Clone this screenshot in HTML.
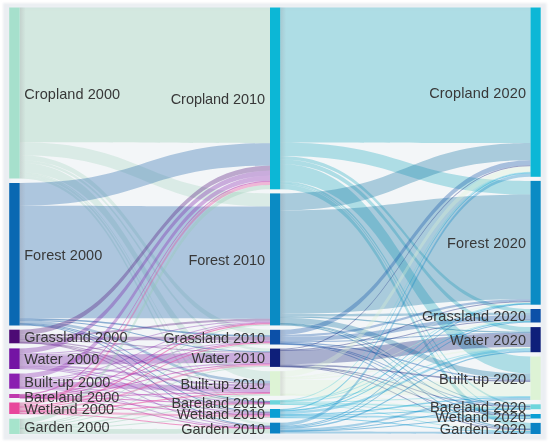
<!DOCTYPE html>
<html><head><meta charset="utf-8"><title>Sankey</title>
<style>html,body{margin:0;padding:0;background:#fff}svg{display:block}</style></head>
<body>
<svg width="550" height="443" viewBox="0 0 550 443">
<defs><linearGradient id="sh" x1="0" x2="1" y1="0" y2="0"><stop offset="0" stop-color="#8a8088" stop-opacity="0.22"/><stop offset="1" stop-color="#8a8088" stop-opacity="0"/></linearGradient><filter id="bl2" x="-5%" y="-5%" width="110%" height="110%"><feGaussianBlur stdDeviation="1.5"/></filter><filter id="bl" x="-5%" y="-5%" width="110%" height="110%"><feGaussianBlur stdDeviation="0.8"/></filter></defs>
<rect width="550" height="443" fill="#ffffff"/>
<rect x="3" y="3" width="543.5" height="437" fill="#ebeef2" filter="url(#bl)"/>
<rect x="10" y="8" width="530" height="426" fill="#f3f6f8" filter="url(#bl2)"/>
<g>
<path d="M19.70,7.50C144.85,7.50 144.85,7.50 270.00,7.50L270.00,143.15C144.85,143.15 144.85,142.37 19.70,142.37Z" fill="#92ccb0" fill-opacity="0.33"/>
<path d="M19.70,142.37C144.85,142.37 144.85,193.40 270.00,193.40L270.00,206.45C144.85,206.45 144.85,155.31 19.70,155.31Z" fill="#92ccb0" fill-opacity="0.26"/>
<path d="M19.70,155.31C144.85,155.31 144.85,329.80 270.00,329.80L270.00,335.20C144.85,335.20 144.85,160.29 19.70,160.29Z" fill="#92ccb0" fill-opacity="0.26"/>
<path d="M19.70,160.29C144.85,160.29 144.85,348.60 270.00,348.60L270.00,351.27C144.85,351.27 144.85,162.87 19.70,162.87Z" fill="#92ccb0" fill-opacity="0.26"/>
<path d="M19.70,162.87C144.85,162.87 144.85,371.20 270.00,371.20L270.00,380.66C144.85,380.66 144.85,172.33 19.70,172.33Z" fill="#92ccb0" fill-opacity="0.26"/>
<path d="M19.70,172.33C144.85,172.33 144.85,400.20 270.00,400.20L270.00,401.20C144.85,401.20 144.85,173.33 19.70,173.33Z" fill="#92ccb0" fill-opacity="0.273"/>
<path d="M19.70,173.32C144.85,173.32 144.85,409.00 270.00,409.00L270.00,411.59C144.85,411.59 144.85,175.71 19.70,175.71Z" fill="#92ccb0" fill-opacity="0.26"/>
<path d="M19.70,175.71C144.85,175.71 144.85,422.70 270.00,422.70L270.00,425.68C144.85,425.68 144.85,178.50 19.70,178.50Z" fill="#92ccb0" fill-opacity="0.26"/>
<path d="M19.70,183.00C144.85,183.00 144.85,143.15 270.00,143.15L270.00,165.67C144.85,165.67 144.85,205.66 19.70,205.66Z" fill="#1e64aa" fill-opacity="0.33"/>
<path d="M19.70,205.66C144.85,205.66 144.85,206.45 270.00,206.45L270.00,318.67C144.85,318.67 144.85,318.25 19.70,318.25Z" fill="#1e64aa" fill-opacity="0.33"/>
<path d="M19.70,318.25C144.85,318.25 144.85,335.20 270.00,335.20L270.00,336.83C144.85,336.83 144.85,319.76 19.70,319.76Z" fill="#1e64aa" fill-opacity="0.495"/>
<path d="M19.70,319.66C144.85,319.66 144.85,351.18 270.00,351.18L270.00,352.18C144.85,352.18 144.85,320.66 19.70,320.66Z" fill="#1e64aa" fill-opacity="0.495"/>
<path d="M19.70,320.57C144.85,320.57 144.85,380.66 270.00,380.66L270.00,383.35C144.85,383.35 144.85,323.28 19.70,323.28Z" fill="#1e64aa" fill-opacity="0.33"/>
<path d="M19.70,323.09C144.85,323.09 144.85,401.00 270.00,401.00L270.00,402.00C144.85,402.00 144.85,324.09 19.70,324.09Z" fill="#1e64aa" fill-opacity="0.495"/>
<path d="M19.70,323.79C144.85,323.79 144.85,411.52 270.00,411.52L270.00,412.52C144.85,412.52 144.85,324.79 19.70,324.79Z" fill="#1e64aa" fill-opacity="0.495"/>
<path d="M19.70,324.60C144.85,324.60 144.85,425.60 270.00,425.60L270.00,426.60C144.85,426.60 144.85,325.60 19.70,325.60Z" fill="#1e64aa" fill-opacity="0.495"/>
<path d="M19.70,329.70C144.85,329.70 144.85,165.67 270.00,165.67L270.00,170.68C144.85,170.68 144.85,334.70 19.70,334.70Z" fill="#4d0a75" fill-opacity="0.33"/>
<path d="M19.70,334.70C144.85,334.70 144.85,318.67 270.00,318.67L270.00,320.68C144.85,320.68 144.85,336.70 19.70,336.70Z" fill="#4d0a75" fill-opacity="0.33"/>
<path d="M19.70,336.70C144.85,336.70 144.85,336.83 270.00,336.83L270.00,340.28C144.85,340.28 144.85,339.90 19.70,339.90Z" fill="#4d0a75" fill-opacity="0.33"/>
<path d="M19.70,339.80C144.85,339.80 144.85,352.01 270.00,352.01L270.00,353.01C144.85,353.01 144.85,340.80 19.70,340.80Z" fill="#4d0a75" fill-opacity="0.33"/>
<path d="M19.70,340.70C144.85,340.70 144.85,383.35 270.00,383.35L270.00,384.74C144.85,384.74 144.85,342.10 19.70,342.10Z" fill="#4d0a75" fill-opacity="0.33"/>
<path d="M19.70,341.80C144.85,341.80 144.85,401.50 270.00,401.50L270.00,402.50C144.85,402.50 144.85,342.80 19.70,342.80Z" fill="#4d0a75" fill-opacity="0.33"/>
<path d="M19.70,342.20C144.85,342.20 144.85,412.17 270.00,412.17L270.00,413.17C144.85,413.17 144.85,343.20 19.70,343.20Z" fill="#4d0a75" fill-opacity="0.33"/>
<path d="M19.70,342.60C144.85,342.60 144.85,426.24 270.00,426.24L270.00,427.24C144.85,427.24 144.85,343.60 19.70,343.60Z" fill="#4d0a75" fill-opacity="0.33"/>
<path d="M19.70,348.40C144.85,348.40 144.85,170.68 270.00,170.68L270.00,175.69C144.85,175.69 144.85,353.40 19.70,353.40Z" fill="#7414a4" fill-opacity="0.33"/>
<path d="M19.70,353.40C144.85,353.40 144.85,320.68 270.00,320.68L270.00,321.69C144.85,321.69 144.85,354.40 19.70,354.40Z" fill="#7414a4" fill-opacity="0.33"/>
<path d="M19.70,354.30C144.85,354.30 144.85,340.22 270.00,340.22L270.00,341.22C144.85,341.22 144.85,355.30 19.70,355.30Z" fill="#7414a4" fill-opacity="0.33"/>
<path d="M19.70,355.20C144.85,355.20 144.85,352.92 270.00,352.92L270.00,362.68C144.85,362.68 144.85,364.70 19.70,364.70Z" fill="#7414a4" fill-opacity="0.33"/>
<path d="M19.70,364.70C144.85,364.70 144.85,384.74 270.00,384.74L270.00,386.74C144.85,386.74 144.85,366.70 19.70,366.70Z" fill="#7414a4" fill-opacity="0.33"/>
<path d="M19.70,366.45C144.85,366.45 144.85,401.95 270.00,401.95L270.00,402.95C144.85,402.95 144.85,367.45 19.70,367.45Z" fill="#7414a4" fill-opacity="0.33"/>
<path d="M19.70,367.20C144.85,367.20 144.85,412.89 270.00,412.89L270.00,414.18C144.85,414.18 144.85,368.40 19.70,368.40Z" fill="#7414a4" fill-opacity="0.33"/>
<path d="M19.70,368.20C144.85,368.20 144.85,426.78 270.00,426.78L270.00,427.78C144.85,427.78 144.85,369.20 19.70,369.20Z" fill="#7414a4" fill-opacity="0.33"/>
<path d="M19.70,373.60C144.85,373.60 144.85,175.69 270.00,175.69L270.00,180.69C144.85,180.69 144.85,378.60 19.70,378.60Z" fill="#8a1fb0" fill-opacity="0.33"/>
<path d="M19.70,378.60C144.85,378.60 144.85,321.69 270.00,321.69L270.00,322.69C144.85,322.69 144.85,379.60 19.70,379.60Z" fill="#8a1fb0" fill-opacity="0.33"/>
<path d="M19.70,379.50C144.85,379.50 144.85,341.08 270.00,341.08L270.00,342.08C144.85,342.08 144.85,380.50 19.70,380.50Z" fill="#8a1fb0" fill-opacity="0.33"/>
<path d="M19.70,380.40C144.85,380.40 144.85,362.68 270.00,362.68L270.00,363.92C144.85,363.92 144.85,381.60 19.70,381.60Z" fill="#8a1fb0" fill-opacity="0.33"/>
<path d="M19.70,381.60C144.85,381.60 144.85,386.74 270.00,386.74L270.00,392.21C144.85,392.21 144.85,387.10 19.70,387.10Z" fill="#8a1fb0" fill-opacity="0.33"/>
<path d="M19.70,386.80C144.85,386.80 144.85,402.40 270.00,402.40L270.00,403.40C144.85,403.40 144.85,387.80 19.70,387.80Z" fill="#8a1fb0" fill-opacity="0.33"/>
<path d="M19.70,387.30C144.85,387.30 144.85,414.01 270.00,414.01L270.00,415.01C144.85,415.01 144.85,388.30 19.70,388.30Z" fill="#8a1fb0" fill-opacity="0.33"/>
<path d="M19.70,387.90C144.85,387.90 144.85,427.41 270.00,427.41L270.00,428.41C144.85,428.41 144.85,388.90 19.70,388.90Z" fill="#8a1fb0" fill-opacity="0.33"/>
<path d="M19.70,394.00C144.85,394.00 144.85,180.69 270.00,180.69L270.00,181.99C144.85,181.99 144.85,395.30 19.70,395.30Z" fill="#c03aae" fill-opacity="0.54"/>
<path d="M19.70,395.05C144.85,395.05 144.85,322.44 270.00,322.44L270.00,323.44C144.85,323.44 144.85,396.05 19.70,396.05Z" fill="#c03aae" fill-opacity="0.54"/>
<path d="M19.70,395.50C144.85,395.50 144.85,341.73 270.00,341.73L270.00,342.73C144.85,342.73 144.85,396.50 19.70,396.50Z" fill="#c03aae" fill-opacity="0.54"/>
<path d="M19.70,395.85C144.85,395.85 144.85,363.57 270.00,363.57L270.00,364.57C144.85,364.57 144.85,396.85 19.70,396.85Z" fill="#c03aae" fill-opacity="0.54"/>
<path d="M19.70,396.30C144.85,396.30 144.85,392.01 270.00,392.01L270.00,393.01C144.85,393.01 144.85,397.30 19.70,397.30Z" fill="#c03aae" fill-opacity="0.54"/>
<path d="M19.70,396.90C144.85,396.90 144.85,402.90 270.00,402.90L270.00,403.90C144.85,403.90 144.85,397.90 19.70,397.90Z" fill="#c03aae" fill-opacity="0.54"/>
<path d="M19.70,397.28C144.85,397.28 144.85,414.41 270.00,414.41L270.00,415.41C144.85,415.41 144.85,398.28 19.70,398.28Z" fill="#c03aae" fill-opacity="0.54"/>
<path d="M19.70,397.43C144.85,397.43 144.85,427.81 270.00,427.81L270.00,428.81C144.85,428.81 144.85,398.43 19.70,398.43Z" fill="#c03aae" fill-opacity="0.54"/>
<path d="M19.70,402.50C144.85,402.50 144.85,181.99 270.00,181.99L270.00,185.00C144.85,185.00 144.85,405.64 19.70,405.64Z" fill="#e8479c" fill-opacity="0.36"/>
<path d="M19.70,405.64C144.85,405.64 144.85,323.19 270.00,323.19L270.00,324.40C144.85,324.40 144.85,406.89 19.70,406.89Z" fill="#e8479c" fill-opacity="0.54"/>
<path d="M19.70,406.89C144.85,406.89 144.85,342.45 270.00,342.45L270.00,343.53C144.85,343.53 144.85,407.94 19.70,407.94Z" fill="#e8479c" fill-opacity="0.54"/>
<path d="M19.70,407.94C144.85,407.94 144.85,364.23 270.00,364.23L270.00,366.08C144.85,366.08 144.85,409.82 19.70,409.82Z" fill="#e8479c" fill-opacity="0.36"/>
<path d="M19.70,409.82C144.85,409.82 144.85,392.81 270.00,392.81L270.00,394.11C144.85,394.11 144.85,411.18 19.70,411.18Z" fill="#e8479c" fill-opacity="0.54"/>
<path d="M19.70,410.89C144.85,410.89 144.85,403.40 270.00,403.40L270.00,404.40C144.85,404.40 144.85,411.89 19.70,411.89Z" fill="#e8479c" fill-opacity="0.54"/>
<path d="M19.70,411.60C144.85,411.60 144.85,414.99 270.00,414.99L270.00,417.15C144.85,417.15 144.85,413.69 19.70,413.69Z" fill="#e8479c" fill-opacity="0.36"/>
<path d="M19.70,413.34C144.85,413.34 144.85,428.05 270.00,428.05L270.00,429.05C144.85,429.05 144.85,414.34 19.70,414.34Z" fill="#e8479c" fill-opacity="0.54"/>
<path d="M19.70,418.70C144.85,418.70 144.85,185.00 270.00,185.00L270.00,189.30C144.85,189.30 144.85,423.30 19.70,423.30Z" fill="#92ccb0" fill-opacity="0.33"/>
<path d="M19.70,423.30C144.85,423.30 144.85,324.40 270.00,324.40L270.00,325.40C144.85,325.40 144.85,424.37 19.70,424.37Z" fill="#92ccb0" fill-opacity="0.396"/>
<path d="M19.70,424.35C144.85,424.35 144.85,343.51 270.00,343.51L270.00,344.51C144.85,344.51 144.85,425.35 19.70,425.35Z" fill="#92ccb0" fill-opacity="0.396"/>
<path d="M19.70,425.26C144.85,425.26 144.85,365.99 270.00,365.99L270.00,366.99C144.85,366.99 144.85,426.26 19.70,426.26Z" fill="#92ccb0" fill-opacity="0.396"/>
<path d="M19.70,426.19C144.85,426.19 144.85,394.11 270.00,394.11L270.00,395.80C144.85,395.80 144.85,428.01 19.70,428.01Z" fill="#92ccb0" fill-opacity="0.33"/>
<path d="M19.70,427.78C144.85,427.78 144.85,403.85 270.00,403.85L270.00,404.85C144.85,404.85 144.85,428.78 19.70,428.78Z" fill="#92ccb0" fill-opacity="0.396"/>
<path d="M19.70,428.36C144.85,428.36 144.85,416.98 270.00,416.98L270.00,417.98C144.85,417.98 144.85,429.36 19.70,429.36Z" fill="#92ccb0" fill-opacity="0.396"/>
<path d="M19.70,429.19C144.85,429.19 144.85,428.71 270.00,428.71L270.00,433.50C144.85,433.50 144.85,434.00 19.70,434.00Z" fill="#92ccb0" fill-opacity="0.33"/>
<path d="M280.20,7.50C405.35,7.50 405.35,7.50 530.50,7.50L530.50,143.06C405.35,143.06 405.35,142.44 280.20,142.44Z" fill="#22aabf" fill-opacity="0.33"/>
<path d="M280.20,142.44C405.35,142.44 405.35,180.90 530.50,180.90L530.50,194.58C405.35,194.58 405.35,156.02 280.20,156.02Z" fill="#22aabf" fill-opacity="0.33"/>
<path d="M280.20,156.02C405.35,156.02 405.35,309.00 530.50,309.00L530.50,312.63C405.35,312.63 405.35,159.54 280.20,159.54Z" fill="#22aabf" fill-opacity="0.33"/>
<path d="M280.20,159.54C405.35,159.54 405.35,327.10 530.50,327.10L530.50,331.60C405.35,331.60 405.35,164.06 280.20,164.06Z" fill="#22aabf" fill-opacity="0.33"/>
<path d="M280.20,164.06C405.35,164.06 405.35,356.50 530.50,356.50L530.50,373.62C405.35,373.62 405.35,181.16 280.20,181.16Z" fill="#22aabf" fill-opacity="0.33"/>
<path d="M280.20,181.16C405.35,181.16 405.35,404.30 530.50,404.30L530.50,406.02C405.35,406.02 405.35,183.17 280.20,183.17Z" fill="#22aabf" fill-opacity="0.33"/>
<path d="M280.20,183.17C405.35,183.17 405.35,414.00 530.50,414.00L530.50,415.17C405.35,415.17 405.35,184.47 280.20,184.47Z" fill="#22aabf" fill-opacity="0.33"/>
<path d="M280.20,184.47C405.35,184.47 405.35,422.90 530.50,422.90L530.50,428.12C405.35,428.12 405.35,189.30 280.20,189.30Z" fill="#22aabf" fill-opacity="0.33"/>
<path d="M280.20,193.40C405.35,193.40 405.35,143.06 530.50,143.06L530.50,160.23C405.35,160.23 405.35,210.44 280.20,210.44Z" fill="#1374a4" fill-opacity="0.33"/>
<path d="M280.20,210.44C405.35,210.44 405.35,194.58 530.50,194.58L530.50,299.23C405.35,299.23 405.35,313.97 280.20,313.97Z" fill="#1374a4" fill-opacity="0.33"/>
<path d="M280.20,313.97C405.35,313.97 405.35,312.63 530.50,312.63L530.50,315.23C405.35,315.23 405.35,316.48 280.20,316.48Z" fill="#1374a4" fill-opacity="0.33"/>
<path d="M280.20,316.48C405.35,316.48 405.35,331.60 530.50,331.60L530.50,332.80C405.35,332.80 405.35,317.68 280.20,317.68Z" fill="#1374a4" fill-opacity="0.42900000000000005"/>
<path d="M280.20,317.68C405.35,317.68 405.35,373.62 530.50,373.62L530.50,379.16C405.35,379.16 405.35,323.19 280.20,323.19Z" fill="#1374a4" fill-opacity="0.33"/>
<path d="M280.20,323.00C405.35,323.00 405.35,405.78 530.50,405.78L530.50,406.78C405.35,406.78 405.35,324.00 280.20,324.00Z" fill="#1374a4" fill-opacity="0.42900000000000005"/>
<path d="M280.20,323.55C405.35,323.55 405.35,414.90 530.50,414.90L530.50,415.90C405.35,415.90 405.35,324.55 280.20,324.55Z" fill="#1374a4" fill-opacity="0.42900000000000005"/>
<path d="M280.20,324.30C405.35,324.30 405.35,428.12 530.50,428.12L530.50,429.32C405.35,429.32 405.35,325.40 280.20,325.40Z" fill="#1374a4" fill-opacity="0.42900000000000005"/>
<path d="M280.20,329.80C405.35,329.80 405.35,160.23 530.50,160.23L530.50,165.28C405.35,165.28 405.35,334.80 280.20,334.80Z" fill="#0c50a8" fill-opacity="0.33"/>
<path d="M280.20,334.80C405.35,334.80 405.35,299.23 530.50,299.23L530.50,301.46C405.35,301.46 405.35,337.00 280.20,337.00Z" fill="#0c50a8" fill-opacity="0.33"/>
<path d="M280.20,337.00C405.35,337.00 405.35,315.23 530.50,315.23L530.50,319.90C405.35,319.90 405.35,341.50 280.20,341.50Z" fill="#0c50a8" fill-opacity="0.33"/>
<path d="M280.20,341.30C405.35,341.30 405.35,332.60 530.50,332.60L530.50,333.60C405.35,333.60 405.35,342.30 280.20,342.30Z" fill="#0c50a8" fill-opacity="0.396"/>
<path d="M280.20,342.10C405.35,342.10 405.35,379.16 530.50,379.16L530.50,380.36C405.35,380.36 405.35,343.30 280.20,343.30Z" fill="#0c50a8" fill-opacity="0.396"/>
<path d="M280.20,343.00C405.35,343.00 405.35,406.21 530.50,406.21L530.50,407.21C405.35,407.21 405.35,344.00 280.20,344.00Z" fill="#0c50a8" fill-opacity="0.396"/>
<path d="M280.20,343.35C405.35,343.35 405.35,415.25 530.50,415.25L530.50,416.25C405.35,416.25 405.35,344.35 280.20,344.35Z" fill="#0c50a8" fill-opacity="0.396"/>
<path d="M280.20,343.75C405.35,343.75 405.35,429.09 530.50,429.09L530.50,430.09C405.35,430.09 405.35,344.75 280.20,344.75Z" fill="#0c50a8" fill-opacity="0.396"/>
<path d="M280.20,348.60C405.35,348.60 405.35,165.28 530.50,165.28L530.50,166.29C405.35,166.29 405.35,349.60 280.20,349.60Z" fill="#0e1f7a" fill-opacity="0.396"/>
<path d="M280.20,349.45C405.35,349.45 405.35,301.31 530.50,301.31L530.50,302.31C405.35,302.31 405.35,350.45 280.20,350.45Z" fill="#0e1f7a" fill-opacity="0.396"/>
<path d="M280.20,350.05C405.35,350.05 405.35,319.66 530.50,319.66L530.50,320.66C405.35,320.66 405.35,351.05 280.20,351.05Z" fill="#0e1f7a" fill-opacity="0.396"/>
<path d="M280.20,350.80C405.35,350.80 405.35,333.40 530.50,333.40L530.50,346.90C405.35,346.90 405.35,364.30 280.20,364.30Z" fill="#0e1f7a" fill-opacity="0.33"/>
<path d="M280.20,364.30C405.35,364.30 405.35,380.36 530.50,380.36L530.50,381.88C405.35,381.88 405.35,365.80 280.20,365.80Z" fill="#0e1f7a" fill-opacity="0.396"/>
<path d="M280.20,365.45C405.35,365.45 405.35,406.51 530.50,406.51L530.50,407.51C405.35,407.51 405.35,366.45 280.20,366.45Z" fill="#0e1f7a" fill-opacity="0.396"/>
<path d="M280.20,365.80C405.35,365.80 405.35,415.57 530.50,415.57L530.50,416.57C405.35,416.57 405.35,366.80 280.20,366.80Z" fill="#0e1f7a" fill-opacity="0.396"/>
<path d="M280.20,366.20C405.35,366.20 405.35,429.58 530.50,429.58L530.50,430.58C405.35,430.58 405.35,367.20 280.20,367.20Z" fill="#0e1f7a" fill-opacity="0.396"/>
<path d="M280.20,371.20C405.35,371.20 405.35,166.29 530.50,166.29L530.50,171.85C405.35,171.85 405.35,376.81 280.20,376.81Z" fill="#ddf3d5" fill-opacity="0.33"/>
<path d="M280.20,376.81C405.35,376.81 405.35,302.17 530.50,302.17L530.50,303.18C405.35,303.18 405.35,377.83 280.20,377.83Z" fill="#ddf3d5" fill-opacity="0.33"/>
<path d="M280.20,377.59C405.35,377.59 405.35,320.18 530.50,320.18L530.50,321.18C405.35,321.18 405.35,378.59 280.20,378.59Z" fill="#ddf3d5" fill-opacity="0.33"/>
<path d="M280.20,378.35C405.35,378.35 405.35,346.90 530.50,346.90L530.50,348.40C405.35,348.40 405.35,379.88 280.20,379.88Z" fill="#ddf3d5" fill-opacity="0.33"/>
<path d="M280.20,379.88C405.35,379.88 405.35,381.88 530.50,381.88L530.50,395.97C405.35,395.97 405.35,394.17 280.20,394.17Z" fill="#ddf3d5" fill-opacity="0.33"/>
<path d="M280.20,393.82C405.35,393.82 405.35,406.77 530.50,406.77L530.50,407.77C405.35,407.77 405.35,394.82 280.20,394.82Z" fill="#ddf3d5" fill-opacity="0.33"/>
<path d="M280.20,394.13C405.35,394.13 405.35,415.88 530.50,415.88L530.50,416.88C405.35,416.88 405.35,395.13 280.20,395.13Z" fill="#ddf3d5" fill-opacity="0.33"/>
<path d="M280.20,394.78C405.35,394.78 405.35,430.30 530.50,430.30L530.50,431.39C405.35,431.39 405.35,395.80 280.20,395.80Z" fill="#ddf3d5" fill-opacity="0.33"/>
<path d="M280.20,400.05C405.35,400.05 405.35,171.70 530.50,171.70L530.50,172.70C405.35,172.70 405.35,401.05 280.20,401.05Z" fill="#5fd0d8" fill-opacity="0.396"/>
<path d="M280.20,400.55C405.35,400.55 405.35,302.83 530.50,302.83L530.50,303.83C405.35,303.83 405.35,401.55 280.20,401.55Z" fill="#5fd0d8" fill-opacity="0.396"/>
<path d="M280.20,400.85C405.35,400.85 405.35,320.60 530.50,320.60L530.50,321.60C405.35,321.60 405.35,401.85 280.20,401.85Z" fill="#5fd0d8" fill-opacity="0.396"/>
<path d="M280.20,401.15C405.35,401.15 405.35,348.05 530.50,348.05L530.50,349.05C405.35,349.05 405.35,402.15 280.20,402.15Z" fill="#5fd0d8" fill-opacity="0.396"/>
<path d="M280.20,401.70C405.35,401.70 405.35,395.88 530.50,395.88L530.50,396.88C405.35,396.88 405.35,402.70 280.20,402.70Z" fill="#5fd0d8" fill-opacity="0.396"/>
<path d="M280.20,402.60C405.35,402.60 405.35,407.39 530.50,407.39L530.50,408.77C405.35,408.77 405.35,404.20 280.20,404.20Z" fill="#5fd0d8" fill-opacity="0.396"/>
<path d="M280.20,403.80C405.35,403.80 405.35,416.11 530.50,416.11L530.50,417.11C405.35,417.11 405.35,404.80 280.20,404.80Z" fill="#5fd0d8" fill-opacity="0.396"/>
<path d="M280.20,404.00C405.35,404.00 405.35,431.00 530.50,431.00L530.50,432.00C405.35,432.00 405.35,405.00 280.20,405.00Z" fill="#5fd0d8" fill-opacity="0.396"/>
<path d="M280.20,409.00C405.35,409.00 405.35,172.56 530.50,172.56L530.50,173.77C405.35,173.77 405.35,410.32 280.20,410.32Z" fill="#0a9fd4" fill-opacity="0.42900000000000005"/>
<path d="M280.20,410.09C405.35,410.09 405.35,303.24 530.50,303.24L530.50,304.24C405.35,304.24 405.35,411.09 280.20,411.09Z" fill="#0a9fd4" fill-opacity="0.42900000000000005"/>
<path d="M280.20,410.64C405.35,410.64 405.35,321.01 530.50,321.01L530.50,322.01C405.35,322.01 405.35,411.64 280.20,411.64Z" fill="#0a9fd4" fill-opacity="0.42900000000000005"/>
<path d="M280.20,411.42C405.35,411.42 405.35,348.70 530.50,348.70L530.50,350.90C405.35,350.90 405.35,413.84 280.20,413.84Z" fill="#0a9fd4" fill-opacity="0.33"/>
<path d="M280.20,413.84C405.35,413.84 405.35,396.78 530.50,396.78L530.50,397.99C405.35,397.99 405.35,415.16 280.20,415.16Z" fill="#0a9fd4" fill-opacity="0.42900000000000005"/>
<path d="M280.20,414.83C405.35,414.83 405.35,408.40 530.50,408.40L530.50,409.40C405.35,409.40 405.35,415.83 280.20,415.83Z" fill="#0a9fd4" fill-opacity="0.42900000000000005"/>
<path d="M280.20,415.49C405.35,415.49 405.35,416.70 530.50,416.70L530.50,418.32C405.35,418.32 405.35,417.47 280.20,417.47Z" fill="#0a9fd4" fill-opacity="0.33"/>
<path d="M280.20,417.14C405.35,417.14 405.35,431.27 530.50,431.27L530.50,432.27C405.35,432.27 405.35,418.14 280.20,418.14Z" fill="#0a9fd4" fill-opacity="0.42900000000000005"/>
<path d="M280.20,422.70C405.35,422.70 405.35,173.77 530.50,173.77L530.50,176.80C405.35,176.80 405.35,425.97 280.20,425.97Z" fill="#0a82c4" fill-opacity="0.33"/>
<path d="M280.20,425.85C405.35,425.85 405.35,303.85 530.50,303.85L530.50,304.85C405.35,304.85 405.35,426.85 280.20,426.85Z" fill="#0a82c4" fill-opacity="0.42900000000000005"/>
<path d="M280.20,426.62C405.35,426.62 405.35,321.64 530.50,321.64L530.50,322.64C405.35,322.64 405.35,427.62 280.20,427.62Z" fill="#0a82c4" fill-opacity="0.42900000000000005"/>
<path d="M280.20,427.50C405.35,427.50 405.35,350.90 530.50,350.90L530.50,352.20C405.35,352.20 405.35,428.92 280.20,428.92Z" fill="#0a82c4" fill-opacity="0.42900000000000005"/>
<path d="M280.20,428.92C405.35,428.92 405.35,397.99 530.50,397.99L530.50,399.90C405.35,399.90 405.35,430.99 280.20,430.99Z" fill="#0a82c4" fill-opacity="0.33"/>
<path d="M280.20,430.60C405.35,430.60 405.35,408.61 530.50,408.61L530.50,409.61C405.35,409.61 405.35,431.60 280.20,431.60Z" fill="#0a82c4" fill-opacity="0.42900000000000005"/>
<path d="M280.20,430.82C405.35,430.82 405.35,417.91 530.50,417.91L530.50,418.91C405.35,418.91 405.35,431.82 280.20,431.82Z" fill="#0a82c4" fill-opacity="0.42900000000000005"/>
<path d="M280.20,431.43C405.35,431.43 405.35,431.93 530.50,431.93L530.50,434.00C405.35,434.00 405.35,433.50 280.20,433.50Z" fill="#0a82c4" fill-opacity="0.33"/>
</g>
<rect x="19.7" y="7.5" width="6" height="171.00" fill="url(#sh)"/>
<rect x="19.7" y="183" width="6" height="142.50" fill="url(#sh)"/>
<rect x="19.7" y="329.7" width="6" height="13.60" fill="url(#sh)"/>
<rect x="19.7" y="348.4" width="6" height="20.60" fill="url(#sh)"/>
<rect x="19.7" y="373.6" width="6" height="15.10" fill="url(#sh)"/>
<rect x="19.7" y="394" width="6" height="4.00" fill="url(#sh)"/>
<rect x="19.7" y="402.5" width="6" height="11.50" fill="url(#sh)"/>
<rect x="19.7" y="418.7" width="6" height="15.30" fill="url(#sh)"/>
<rect x="280.2" y="7.5" width="6" height="181.80" fill="url(#sh)"/>
<rect x="280.2" y="193.4" width="6" height="132.00" fill="url(#sh)"/>
<rect x="280.2" y="329.8" width="6" height="14.70" fill="url(#sh)"/>
<rect x="280.2" y="348.6" width="6" height="18.30" fill="url(#sh)"/>
<rect x="280.2" y="371.2" width="6" height="24.60" fill="url(#sh)"/>
<rect x="280.2" y="400.2" width="6" height="4.40" fill="url(#sh)"/>
<rect x="280.2" y="409" width="6" height="8.80" fill="url(#sh)"/>
<rect x="280.2" y="422.7" width="6" height="10.80" fill="url(#sh)"/>
<rect x="9.2" y="7.5" width="10.50" height="171.00" fill="#a6e0cc"/>
<rect x="9.2" y="183" width="10.50" height="142.50" fill="#0a68b2"/>
<rect x="9.2" y="329.7" width="10.50" height="13.60" fill="#4d0a75"/>
<rect x="9.2" y="348.4" width="10.50" height="20.60" fill="#7414a4"/>
<rect x="9.2" y="373.6" width="10.50" height="15.10" fill="#8a1fb0"/>
<rect x="9.2" y="394" width="10.50" height="4.00" fill="#c03aae"/>
<rect x="9.2" y="402.5" width="10.50" height="11.50" fill="#e8479c"/>
<rect x="9.2" y="418.7" width="10.50" height="15.30" fill="#a6e4cc"/>
<rect x="270" y="7.5" width="10.20" height="181.80" fill="#0cb7d6"/>
<rect x="270" y="193.4" width="10.20" height="132.00" fill="#0a8bc4"/>
<rect x="270" y="329.8" width="10.20" height="14.70" fill="#0c50a8"/>
<rect x="270" y="348.6" width="10.20" height="18.30" fill="#0e1f7a"/>
<rect x="270" y="371.2" width="10.20" height="24.60" fill="#ddf3d5"/>
<rect x="270" y="400.2" width="10.20" height="4.40" fill="#6dd6dc"/>
<rect x="270" y="409" width="10.20" height="8.80" fill="#0a9fd4"/>
<rect x="270" y="422.7" width="10.20" height="10.80" fill="#0a82c4"/>
<rect x="530.5" y="7.5" width="10.20" height="169.30" fill="#0cb7d6"/>
<rect x="530.5" y="180.9" width="10.20" height="123.80" fill="#0a8bc4"/>
<rect x="530.5" y="309" width="10.20" height="13.50" fill="#0c50a8"/>
<rect x="530.5" y="327.1" width="10.20" height="25.10" fill="#0e1f7a"/>
<rect x="530.5" y="356.5" width="10.20" height="43.40" fill="#ddf3d5"/>
<rect x="530.5" y="404.3" width="10.20" height="4.90" fill="#6dd6dc"/>
<rect x="530.5" y="414" width="10.20" height="4.50" fill="#0a9fd4"/>
<rect x="530.5" y="422.9" width="10.20" height="11.10" fill="#0a82c4"/>
<g font-family="'Liberation Sans', Arial, sans-serif" font-size="14.5" fill="#383838">
<text x="24.2" y="98.60" text-anchor="start" textLength="96.0" lengthAdjust="spacing">Cropland 2000</text>
<text x="24.2" y="259.85" text-anchor="start" textLength="78.1" lengthAdjust="spacing">Forest 2000</text>
<text x="24.2" y="342.10" text-anchor="start" textLength="103.3" lengthAdjust="spacing">Grassland 2000</text>
<text x="24.2" y="364.30" text-anchor="start" textLength="75.1" lengthAdjust="spacing">Water 2000</text>
<text x="24.2" y="386.75" text-anchor="start" textLength="86.2" lengthAdjust="spacing">Built-up 2000</text>
<text x="24.2" y="401.60" text-anchor="start" textLength="95.2" lengthAdjust="spacing">Bareland 2000</text>
<text x="24.2" y="413.85" text-anchor="start" textLength="90.0" lengthAdjust="spacing">Wetland 2000</text>
<text x="24.2" y="431.95" text-anchor="start" textLength="85.4" lengthAdjust="spacing">Garden 2000</text>
<text x="265.1" y="104.00" text-anchor="end" textLength="94.4" lengthAdjust="spacing">Cropland 2010</text>
<text x="265.1" y="265.00" text-anchor="end" textLength="76.5" lengthAdjust="spacing">Forest 2010</text>
<text x="265.1" y="342.75" text-anchor="end" textLength="101.7" lengthAdjust="spacing">Grassland 2010</text>
<text x="265.1" y="363.35" text-anchor="end" textLength="73.5" lengthAdjust="spacing">Water 2010</text>
<text x="265.1" y="389.10" text-anchor="end" textLength="84.6" lengthAdjust="spacing">Built-up 2010</text>
<text x="265.1" y="408.00" text-anchor="end" textLength="93.6" lengthAdjust="spacing">Bareland 2010</text>
<text x="265.1" y="419.00" text-anchor="end" textLength="88.4" lengthAdjust="spacing">Wetland 2010</text>
<text x="265.1" y="433.70" text-anchor="end" textLength="83.8" lengthAdjust="spacing">Garden 2010</text>
<text x="526.0" y="97.75" text-anchor="end" textLength="96.8" lengthAdjust="spacing">Cropland 2020</text>
<text x="526.0" y="248.40" text-anchor="end" textLength="78.9" lengthAdjust="spacing">Forest 2020</text>
<text x="526.0" y="321.35" text-anchor="end" textLength="104.1" lengthAdjust="spacing">Grassland 2020</text>
<text x="526.0" y="345.25" text-anchor="end" textLength="75.9" lengthAdjust="spacing">Water 2020</text>
<text x="526.0" y="383.80" text-anchor="end" textLength="87.0" lengthAdjust="spacing">Built-up 2020</text>
<text x="526.0" y="412.35" text-anchor="end" textLength="96.0" lengthAdjust="spacing">Bareland 2020</text>
<text x="526.0" y="421.85" text-anchor="end" textLength="90.8" lengthAdjust="spacing">Wetland 2020</text>
<text x="526.0" y="434.05" text-anchor="end" textLength="86.2" lengthAdjust="spacing">Garden 2020</text>
</g>
</svg>
</body></html>
